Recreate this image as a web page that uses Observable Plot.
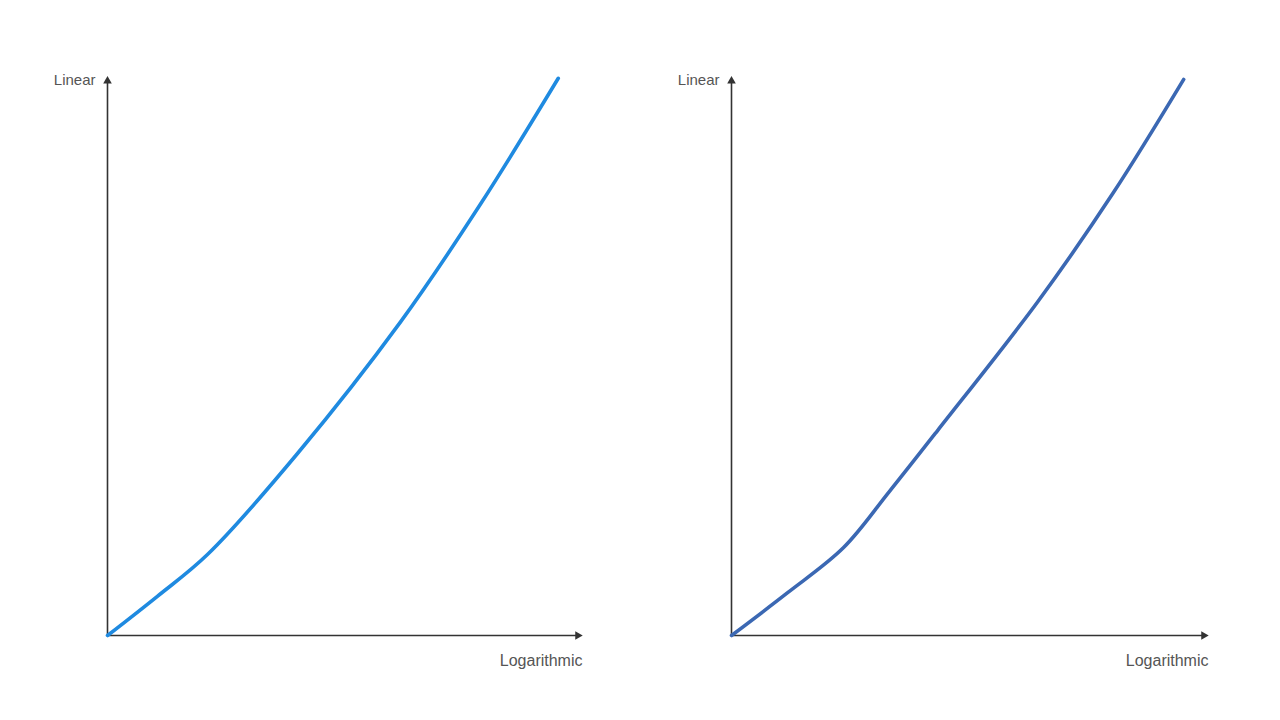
<!DOCTYPE html>
<html>
<head>
<meta charset="utf-8">
<script src="https://cdn.jsdelivr.net/npm/d3@7"></script>
<script src="https://cdn.jsdelivr.net/npm/@observablehq/plot@0.6"></script>
<style>
  html, body { margin: 0; padding: 0; background: #fff; }
  #wrap { display: flex; width: 1280px; height: 720px; }
  #wrap svg { display: block; }
</style>
</head>
<body>
<div id="wrap"></div>
<script>
// Panel titles
const yLabels = ["Linear", "Linear"];
const xLabels = ["Logarithmic", "Logarithmic"];
const lineColors = ["#1f8ae0", "#3b68b3"];

// Left curve (x, y in 0–100 units)
const leftX = [0, 10.5, 21.1, 40.0, 61.7, 78.5, 94.9];
const leftY = [0, 7.0, 14.5, 32.5, 56.0, 77.0, 99.5];

// Right curve
const rightX = [0, 11.7, 23.5, 33.0, 43.2, 64.2, 80.0, 94.8];
const rightY = [0, 7.6, 15.7, 25.6, 36.6, 59.6, 79.0, 99.3];

const panels = [
  {xs: leftX, ys: leftY, ml: 107, mr: 58},
  {xs: rightX, ys: rightY, ml: 91, mr: 72}
];

const wrap = document.getElementById("wrap");
panels.forEach((p, i) => {
  const data = p.xs.map((x, j) => ({x, y: p.ys[j]}));
  const chart = Plot.plot({
    width: 640,
    height: 720,
    marginLeft: p.ml,
    marginRight: p.mr,
    marginTop: 75,
    marginBottom: 85,
    x: {domain: [0, 100], axis: null},
    y: {domain: [0, 100], axis: null},
    style: {fontFamily: "Liberation Sans, DejaVu Sans, sans-serif", background: "#fff"},
    marks: [
      Plot.ruleX([0], {y1: 0, y2: 99, stroke: "#333", strokeWidth: 1.6}),
      Plot.ruleY([0], {x1: 0, x2: 99, stroke: "#333", strokeWidth: 1.6}),
      Plot.dot([{x: 0, y: 99}], {x: "x", y: "y", symbol: "triangle", r: 3.2, fill: "#333", stroke: "none"}),
      Plot.dot([{x: 99, y: 0}], {x: "x", y: "y", symbol: "triangle", r: 3.2, fill: "#333", stroke: "none", rotate: 90}),
      Plot.line(data, {x: "x", y: "y", stroke: lineColors[i], strokeWidth: 3.6, curve: "catmull-rom", strokeLinecap: "round"}),
      Plot.text([yLabels[i]], {x: 0, y: 100, dx: -12, dy: 5, text: d => d, textAnchor: "end", fontSize: 15, fill: "#555"}),
      Plot.text([xLabels[i]], {x: 100, y: 0, dy: 25, text: d => d, textAnchor: "end", fontSize: 16, fill: "#555"})
    ]
  });
  wrap.appendChild(chart);
});
</script>
</body>
</html>
